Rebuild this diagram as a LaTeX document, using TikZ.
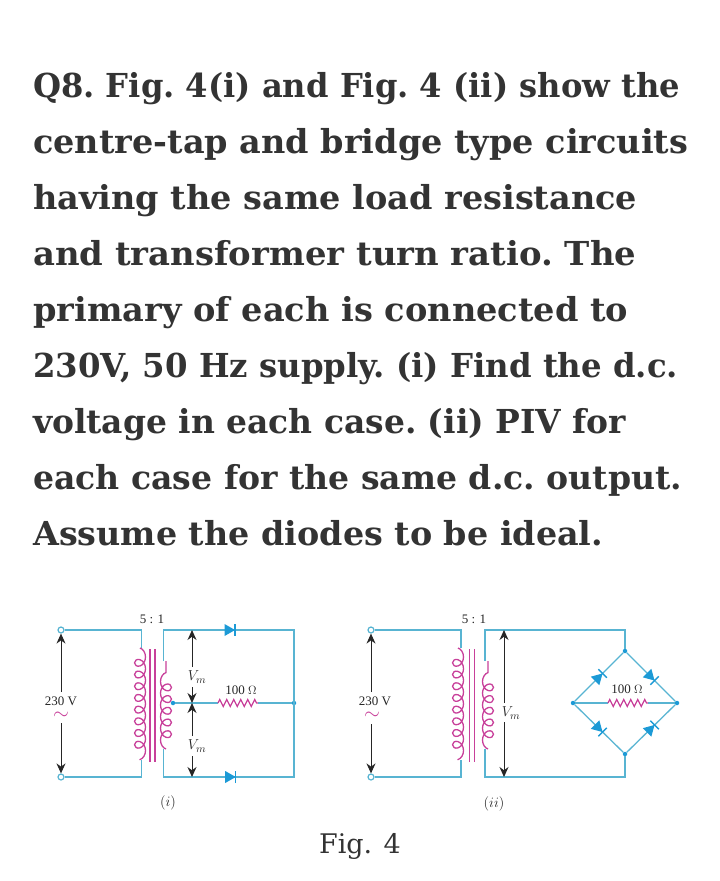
\documentclass[tikz,border=0pt]{standalone}
\usepackage{fontspec}
\usepackage{xcolor}
\usepackage{amsmath}
\usepackage{graphicx}
\setmainfont{Liberation Serif}
\newfontfamily\questionfont{DejaVu Serif}
\usetikzlibrary{decorations.pathmorphing,arrows.meta,positioning}
\definecolor{wirecolor}{HTML}{58B4D2}
\definecolor{coilcolor}{HTML}{C8409A}
\definecolor{diodecolor}{HTML}{1C9AD6}
\definecolor{textcolor}{HTML}{333333}
\newcommand{\fitline}[2]{\resizebox{#1pt}{\height}{\frenchspacing #2}}
\tikzset{
  question/.style={anchor=base west, inner sep=0pt, text=textcolor, font=\questionfont\bfseries\fontsize{33}{33}\selectfont},
  label/.style={inner sep=0pt, text=black!85, font=\fontsize{13}{13}\selectfont},
  vlabel/.style={inner sep=0pt, text=black!85, font=\fontsize{15}{15}\selectfont},
  wave/.style={inner sep=0pt, text=coilcolor, font=\fontsize{12}{12}\selectfont},
  wire/.style={draw=wirecolor, line width=1.3pt},
  coil/.style={draw=coilcolor, line width=1.3pt, decorate, decoration={coil, amplitude=5.5pt, segment length=11.7pt, aspect=1.1}},
  core/.style={draw=coilcolor, line width=1.1pt},
  meter/.style={draw=black!85, line width=1pt, -{Stealth[length=10pt,width=9pt]}},
  resistor/.style={draw=coilcolor, line width=1.2pt, decorate, decoration={zigzag, amplitude=3.5pt, segment length=7pt}},
  terminal/.style={circle, draw=wirecolor, fill=white, line width=1.2pt, inner sep=0pt, minimum size=6pt},
  junction/.style={circle, fill=diodecolor, inner sep=0pt, minimum size=4.5pt},
  diode/.pic={
    \fill[diodecolor] (-5.5,-6) -- (5,0) -- (-5.5,6) -- cycle;
    \draw[diodecolor, line width=1.5pt] (5,-6) -- (5,6);
  }
}
\begin{document}
\begin{tikzpicture}[x=1pt, y=-1pt]
  \useasboundingbox (0,0) rectangle (720,881);

  % Question text
  \node[question] (Line1) at (33,97) {\fitline{647}{Q8. Fig. 4(i) and Fig. 4 (ii) show the}};
  \node[question] (Line2) at (33,153) {\fitline{655}{centre-tap and bridge type circuits}};
  \node[question] (Line3) at (33,209) {\fitline{604}{having the same load resistance}};
  \node[question] (Line4) at (33,265) {\fitline{603}{and transformer turn ratio. The}};
  \node[question] (Line5) at (33,321) {\fitline{595}{primary of each is connected to}};
  \node[question] (Line6) at (33,377) {\fitline{645}{230V, 50 Hz supply. (i) Find the d.c.}};
  \node[question] (Line7) at (33,433) {\fitline{593}{voltage in each case. (ii) PIV for}};
  \node[question] (Line8) at (33,489) {\fitline{649}{each case for the same d.c. output.}};
  \node[question] (Line9) at (33,545) {\fitline{570}{Assume the diodes to be ideal.}};

  % Left circuit: primary side
  \node[terminal] (TopLeft) at (61,630) {};
  \node[terminal] (BottomLeft) at (61,777) {};
  \coordinate (PrimTop) at (141.5,630);
  \coordinate (PrimCoilTop) at (141.5,648);
  \coordinate (PrimBottom) at (141.5,777);
  \coordinate (PrimCoilBottom) at (141.5,760);
  \draw[wire] (TopLeft) -- (PrimTop) -- (PrimCoilTop);
  \draw[wire] (BottomLeft) -- (PrimBottom) -- (PrimCoilBottom);
  \draw[coil] (140,648) -- (140,760);
  \draw[core] (150,649) -- (150,762);
  \draw[core] (155,649) -- (155,762);
  \node[label] (Ratio) at (152,619) {5 : 1};

  % Left circuit: secondary side
  \coordinate (SecTop) at (163.5,630);
  \coordinate (SecBottom) at (163.5,777);
  \coordinate (SecCoilTop) at (163.5,661);
  \coordinate (SecCoilBottom) at (163.5,749);
  \coordinate (OutTop) at (294,630);
  \coordinate (OutBottom) at (294,777);
  \node[junction] (Tap) at (173,703) {};
  \node[junction] (Out) at (294,703) {};
  \coordinate (ResLeft) at (218,703);
  \coordinate (ResRight) at (258,703);
  \draw[wire] (SecCoilTop) -- (SecTop) -- pic[pos=.51]{diode} (OutTop) -- (OutBottom) -- pic[pos=.485, rotate=180, xscale=-1]{diode} (SecBottom) -- (SecCoilBottom);
  \draw[coil] (166,749) -- (166,661);
  \draw[wire] (Tap) -- (ResLeft);
  \draw[wire] (ResRight) -- (Out);
  \draw[resistor] (ResLeft) -- (ResRight);
  \node[label] (Res) at (241,690) {100 $\Omega$};

  % Left circuit: voltage arrows
  \node[label] (Supply) at (61,701) {230 V};
  \node[wave] (Wave) at (61,716) {\scalebox{1.7}{$\sim$}};
  \draw[meter] (61,692) -- (TopLeft);
  \draw[meter] (61,723) -- (BottomLeft);
  \node[vlabel] (VmTop) at (197,677) {$V_m$};
  \node[vlabel] (VmBottom) at (197,746) {$V_m$};
  \coordinate (TapArrow) at (192,703);
  \coordinate (ArrowTop) at (192,630);
  \coordinate (ArrowBottom) at (192,777);
  \draw[meter] (192,667) -- (ArrowTop);
  \draw[meter] (192,687) -- (TapArrow);
  \draw[meter] (192,736) -- (TapArrow);
  \draw[meter] (192,756) -- (ArrowBottom);
  \node[vlabel] (CaptionI) at (168,803) {$(i)$};

  % Right circuit: primary side
  \node[terminal] (TopRight) at (371,630) {};
  \node[terminal] (BottomRight) at (371,777) {};
  \coordinate (PrimTopB) at (461,630);
  \coordinate (PrimCoilTopB) at (461,648);
  \coordinate (PrimBottomB) at (461,777);
  \coordinate (PrimCoilBottomB) at (461,760);
  \draw[wire] (TopRight) -- (PrimTopB) -- (PrimCoilTopB);
  \draw[wire] (BottomRight) -- (PrimBottomB) -- (PrimCoilBottomB);
  \draw[coil] (458,648) -- (458,760);
  \draw[core] (469.3,649) -- (469.3,762);
  \draw[core] (474.7,649) -- (474.7,762);
  \node[label] (RatioB) at (474,619) {5 : 1};

  % Right circuit: secondary side and bridge
  \coordinate (SecTopB) at (485,630);
  \coordinate (SecBottomB) at (485,777);
  \coordinate (SecCoilTopB) at (485,661);
  \coordinate (SecCoilBottomB) at (485,749);
  \coordinate (OutTopB) at (625,630);
  \coordinate (OutBottomB) at (625,777);
  \node[junction] (BridgeTop) at (625,651) {};
  \node[junction] (BridgeBottom) at (625,754) {};
  \node[junction] (BridgeLeft) at (573,703) {};
  \node[junction] (BridgeRight) at (677,703) {};
  \coordinate (ResLeftB) at (608,703);
  \coordinate (ResRightB) at (648,703);
  \draw[wire] (SecCoilTopB) -- (SecTopB) -- (OutTopB) -- (BridgeTop);
  \draw[wire] (SecCoilBottomB) -- (SecBottomB) -- (OutBottomB) -- (BridgeBottom);
  \draw[coil] (488,749) -- (488,661);
  \draw[wire] (BridgeLeft) -- pic[rotate=45]{diode} (BridgeTop);
  \draw[wire] (BridgeTop) -- pic[rotate=-45]{diode} (BridgeRight);
  \draw[wire] (BridgeLeft) -- pic[rotate=-45]{diode} (BridgeBottom);
  \draw[wire] (BridgeBottom) -- pic[rotate=45]{diode} (BridgeRight);
  \draw[wire] (BridgeLeft) -- (ResLeftB);
  \draw[wire] (ResRightB) -- (BridgeRight);
  \draw[resistor] (ResLeftB) -- (ResRightB);
  \node[label] (ResB) at (627,689) {100 $\Omega$};

  % Right circuit: voltage arrows
  \node[label] (SupplyB) at (375,701) {230 V};
  \node[wave] (WaveB) at (372,716) {\scalebox{1.7}{$\sim$}};
  \draw[meter] (371,692) -- (TopRight);
  \draw[meter] (371,724) -- (BottomRight);
  \node[vlabel] (VmB) at (511,713) {$V_m$};
  \coordinate (ArrowTopB) at (504,630);
  \coordinate (ArrowBottomB) at (504,777);
  \draw[meter] (504,703) -- (ArrowTopB);
  \draw[meter] (504,722) -- (ArrowBottomB);
  \node[vlabel] (CaptionII) at (494,804) {$(ii)$};

  % Figure caption
  \node[inner sep=0pt, text=textcolor, font=\questionfont\fontsize{27}{27}\selectfont] (FigCaption) at (360,846) {Fig. 4};
\end{tikzpicture}
\end{document}
